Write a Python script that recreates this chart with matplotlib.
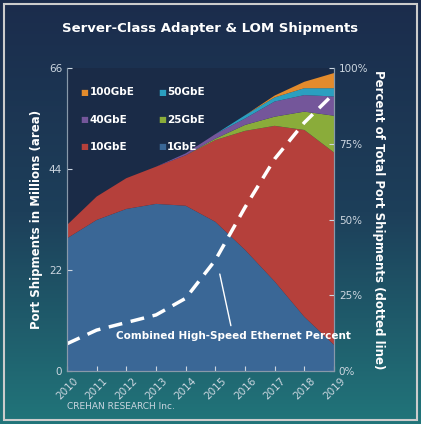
import matplotlib
matplotlib.use("Agg")
import matplotlib.pyplot as plt
import numpy as np
from matplotlib.colors import LinearSegmentedColormap

years = [2010, 2011, 2012, 2013, 2014, 2015, 2016, 2017, 2018, 2019]
g1   = [28.9, 32.9, 35.3, 36.4, 36.0, 32.5, 26.4, 19.5, 11.8, 5.7]
g10  = [2.9, 5.1, 6.7, 8.1, 11.0, 17.8, 25.9, 33.9, 40.7, 41.9]
g25  = [0, 0, 0, 0, 0, 0.3, 1.3, 2.0, 4.0, 8.0]
g40  = [0, 0, 0, 0, 0.4, 1.0, 1.4, 3.3, 3.6, 4.2]
g50  = [0, 0, 0, 0, 0, 0, 0.7, 0.9, 1.5, 1.8]
g100 = [0, 0, 0, 0, 0, 0, 0, 0.4, 1.4, 3.3]
pct  = [9, 13.5, 16, 18.5, 24, 36.6, 54, 70, 82, 91.6]

colors = {"1GbE": "#3a6796", "10GbE": "#b5403b", "25GbE": "#8aac3a",
          "40GbE": "#74569a", "50GbE": "#2b9fc0", "100GbE": "#e38b2c"}

fig = plt.figure(figsize=(4.21, 4.24), dpi=100)
bg = fig.add_axes([0, 0, 1, 1], zorder=-10)
grad = np.linspace(0, 1, 256)[:, None]
cm = LinearSegmentedColormap.from_list("bg", ["#1b2c4c", "#1d3f5a", "#21757a"])
bg.imshow(grad, aspect="auto", cmap=cm, extent=[0, 1, 0, 1])
bg.axis("off")
bg.add_patch(plt.Rectangle((0.01, 0.01), 0.98, 0.98, fill=False, ec="#cccccc", lw=1.5, transform=bg.transAxes))

ax = fig.add_axes([67/421, 53/424, 267/421, 303/424])
ax.set_facecolor("#1a2b47")
stack = [g1, g10, g25, g40, g50, g100]
ax.stackplot(years, *stack, colors=[colors[k] for k in ["1GbE", "10GbE", "25GbE", "40GbE", "50GbE", "100GbE"]], lw=0)
ax.set_xlim(2010, 2019)
ax.set_ylim(0, 66)
ax.set_yticks([0, 22, 44, 66])
ax.set_xticks(years)
for s in ax.spines.values():
    s.set_color("#8899aa")
ax.spines["top"].set_visible(False)
ax.tick_params(colors="#ccd6e0", labelsize=7.5, direction="in")
for lbl in ax.get_xticklabels():
    lbl.set_rotation(45)
ax.set_ylabel("Port Shipments in Millions (area)", color="white", fontsize=8.5, fontweight="bold")

ax2 = ax.twinx()
ax2.plot(years, pct, color="white", lw=2.5, ls=(0, (4, 2.5)))
ax2.set_ylim(0, 100)
ax2.set_yticks([0, 25, 50, 75, 100])
ax2.set_yticklabels(["0%", "25%", "50%", "75%", "100%"])
ax2.tick_params(colors="#ccd6e0", labelsize=7.5, direction="in")
for s in ax2.spines.values():
    s.set_color("#8899aa")
ax2.spines["top"].set_visible(False)
ax2.set_ylabel("Percent of Total Port Shipments (dotted line)", color="white", fontsize=8.5, fontweight="bold", rotation=270, labelpad=12)

ax2.annotate("Combined High-Speed Ethernet Percent", xy=(2015.15, 32), xytext=(2015.6, 11.5),
             color="white", fontsize=7.5, fontweight="bold", ha="center", va="center",
             arrowprops=dict(arrowstyle="-", color="white", lw=1, shrinkB=0))

leg = [("100GbE", 0.05, 0.92), ("50GbE", 0.34, 0.92), ("40GbE", 0.05, 0.83),
       ("25GbE", 0.34, 0.83), ("10GbE", 0.05, 0.74), ("1GbE", 0.34, 0.74)]
for name, x, y in leg:
    ax.text(x, y, "\u25a0", color=colors[name], fontsize=6, transform=ax.transAxes, va="center")
    ax.text(x + 0.035, y, name, color="white", fontsize=7.5, fontweight="bold", transform=ax.transAxes, va="center")

fig.text(0.5, 0.925, "Server-Class Adapter & LOM Shipments", color="white", fontsize=9.5, fontweight="bold", ha="center")
fig.text(0.16, 0.035, "CREHAN RESEARCH Inc.", color="#ccd6e0", fontsize=6.5)
fig.savefig("out.png", dpi=100)
